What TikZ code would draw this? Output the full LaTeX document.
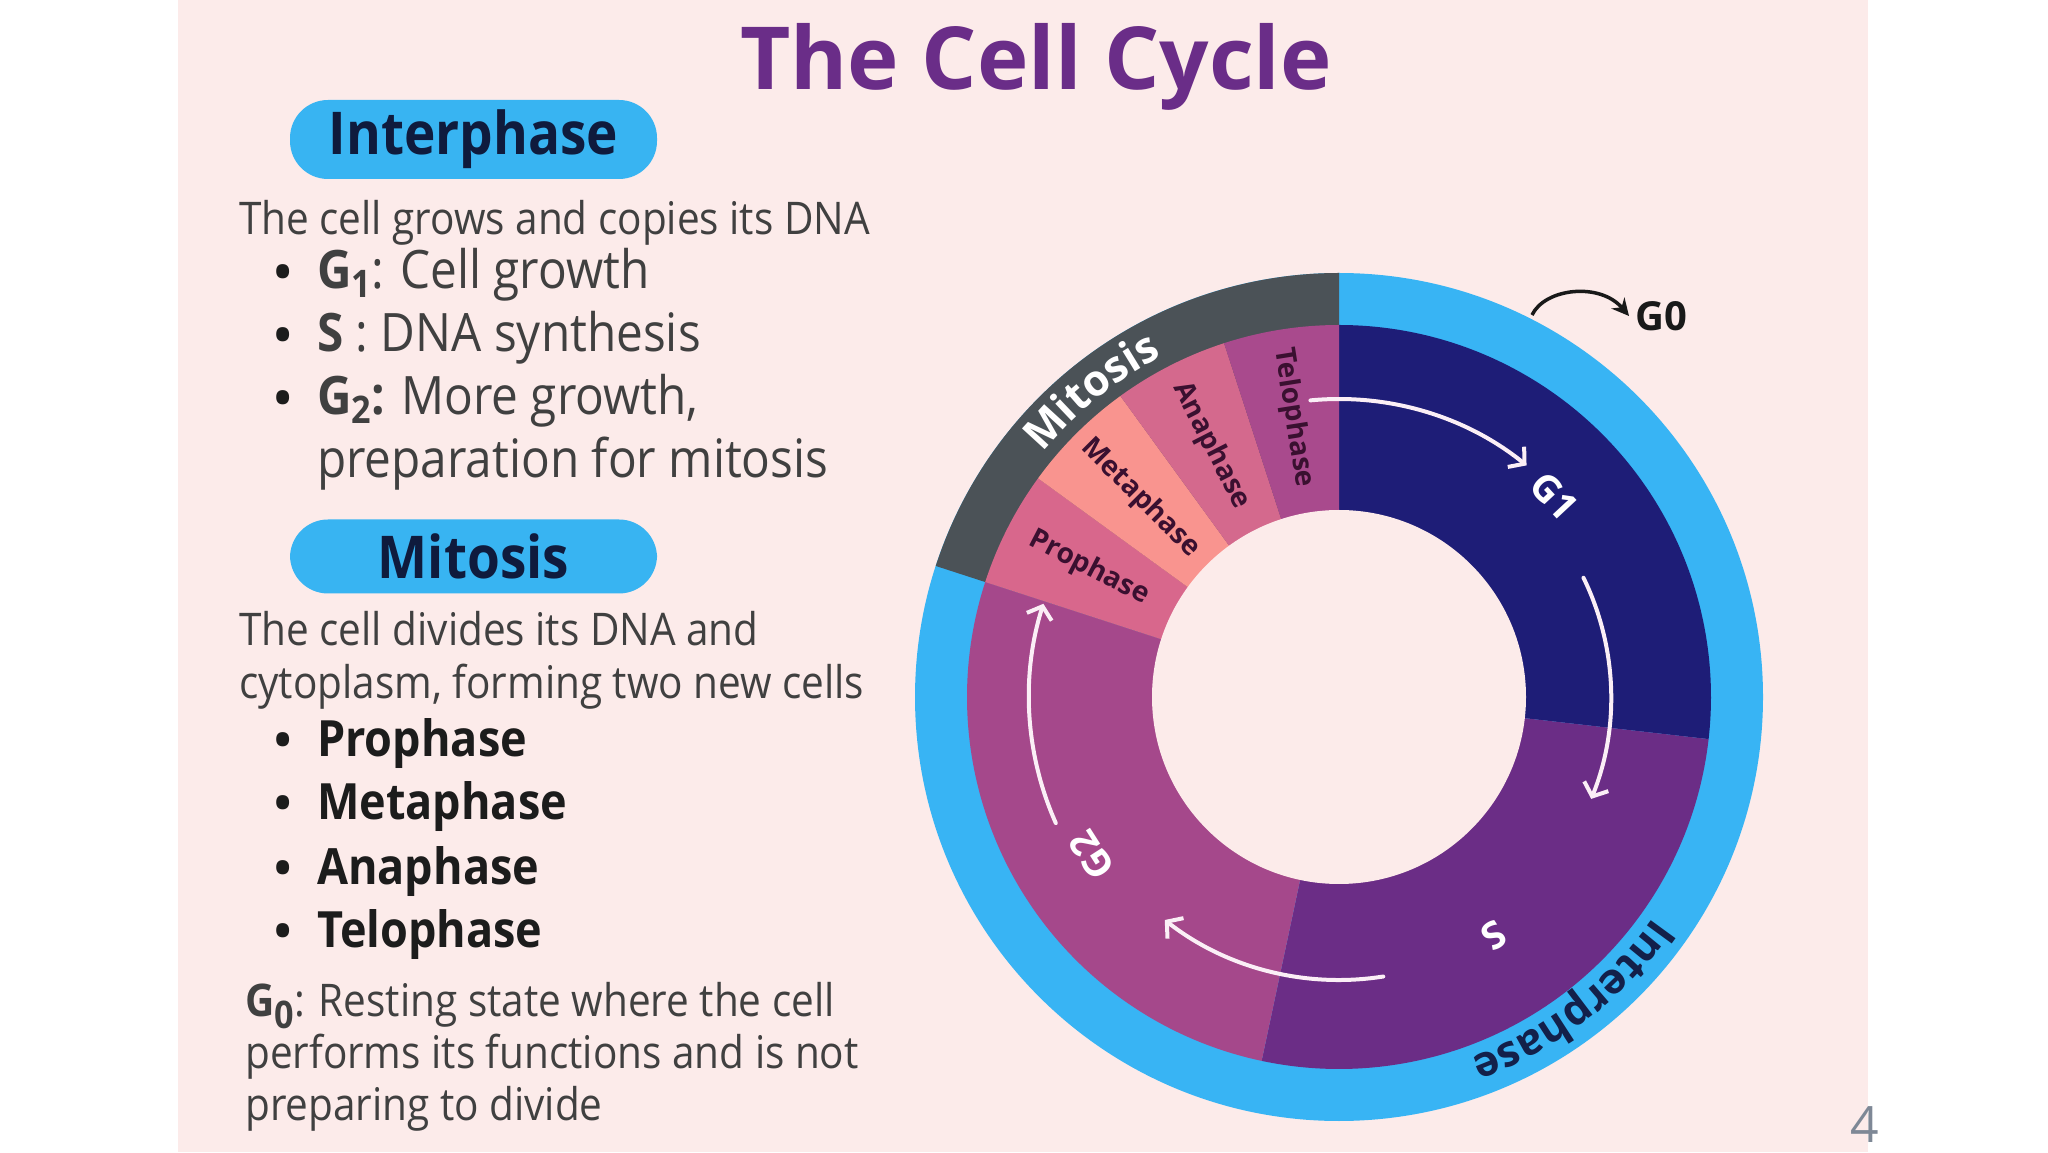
\documentclass[tikz,border=0pt]{standalone}
\usepackage{fontspec}
\setmainfont{Open Sans}
\newfontfamily\osans{Open Sans}
\newfontfamily\osc[FakeStretch=0.9]{Open Sans}
\usetikzlibrary{arrows.meta,decorations.text}
\definecolor{bg}{HTML}{FCEBEA}
\definecolor{ringblue}{HTML}{38B4F4}
\definecolor{ringgray}{HTML}{4B5257}
\definecolor{g1col}{HTML}{1E1D77}
\definecolor{scol}{HTML}{6B2D86}
\definecolor{g2col}{HTML}{A5488B}
\definecolor{procol}{HTML}{D8678C}
\definecolor{metacol}{HTML}{F9948F}
\definecolor{anacol}{HTML}{D4698D}
\definecolor{telocol}{HTML}{A94A8D}
\definecolor{labdark}{HTML}{3A1030}
\definecolor{navytxt}{HTML}{13204A}
\definecolor{pillblue}{HTML}{38B4F2}
\definecolor{pilltext}{HTML}{0F1B3D}
\definecolor{titlepurple}{HTML}{6A2D88}
\definecolor{bodygray}{HTML}{404040}
\definecolor{itemblack}{HTML}{1C1C1C}
\definecolor{arrowwhite}{HTML}{FBEFF6}
\definecolor{pagegray}{HTML}{7E8896}
\newcommand\wedgefill[4]{\fill[#1] (0,0) -- (#2:#4) arc[start angle=#2,end angle=#3,radius=#4] -- cycle;}
\newcommand\bodyfont{\osc\fontsize{45}{54}\selectfont}
\newcommand\listfont{\osc\fontsize{53}{60}\selectfont}
\newcommand\itemfont{\osc\bfseries\fontsize{50}{58}\selectfont}
\newcommand\ringfont{\osans\bfseries\fontsize{43}{50}\selectfont}
\newcommand\subnum[1]{\raisebox{-9pt}{\fontsize{38}{38}\selectfont\bfseries #1}}
\tikzset{
  title/.style={anchor=base, inner sep=0pt, text=titlepurple, font=\osans\bfseries\fontsize{87}{100}\selectfont},
  pill/.style={fill=pillblue, rounded corners=38pt, minimum width=367pt, text=pilltext, inner sep=0pt, font=\osc\bfseries\fontsize{59}{66}\selectfont},
  body/.style={anchor=base west, inner sep=0pt, text=bodygray, font=\bodyfont},
  listline/.style={anchor=base west, inner sep=0pt, text=bodygray, font=\listfont},
  item/.style={anchor=base west, inner sep=0pt, text=itemblack, font=\itemfont},
  bul/.style={anchor=base, inner sep=0pt, text=itemblack, font=\osans\bfseries\fontsize{46}{50}\selectfont},
  wlab/.style={inner sep=0pt, text=labdark, font=\osans\bfseries\fontsize{28}{32}\selectfont},
  glab/.style={inner sep=0pt, text=white, font=\osans\bfseries\fontsize{38}{44}\selectfont},
  cyc/.style={draw=arrowwhite, line width=4pt, line cap=round, -{Straight Barb[length=11pt,width=26pt,line width=4pt]}},
  g0arrow/.style={draw=black!90, line width=3.5pt, -{Stealth[length=17pt,width=17pt]}},
}
\begin{document}
\begin{tikzpicture}[x=1pt,y=1pt]
\useasboundingbox (0,0) rectangle (2048,1152);
\fill[white] (0,0) rectangle (2048,1152);
\fill[bg] (178,0) rectangle (1868,1152);

% title
\node[title] (title) at (1036,1062) {The Cell Cycle};

% left panel
\node[pill, minimum height=79pt] (pint) at (473.5,1012.5) {Interphase};
\node[body] (l1) at (239,917) {The cell grows and copies its DNA};
\node[bul] (b1) at (283,863) {•};
\node[listline] (i1) at (317,863) {{\bfseries G}\subnum{1}: Cell growth};
\node[bul] (b2) at (283,800) {•};
\node[listline] (i2) at (317,800) {{\bfseries S} : DNA synthesis};
\node[bul] (b3) at (283,737) {•};
\node[listline] (i3) at (317,737) {{\bfseries G\subnum{2}:} More growth,};
\node[listline] (i3b) at (317,674) {preparation for mitosis};

\node[pill, minimum height=74pt] (pmit) at (473.5,595.5) {Mitosis};
\node[body] (m1) at (239,506) {The cell divides its DNA and};
\node[body] (m2) at (239,453) {cytoplasm, forming two new cells};
\node[bul] (b4) at (283,395) {•};
\node[item] (pro) at (317,395) {Prophase};
\node[bul] (b5) at (283,332) {•};
\node[item] (meta) at (317,332) {Metaphase};
\node[bul] (b6) at (283,268) {•};
\node[item] (ana) at (317,268) {Anaphase};
\node[bul] (b7) at (283,205) {•};
\node[item] (telo) at (317,205) {Telophase};

\node[body] (g0a) at (245,136) {{\bfseries G\raisebox{-12pt}{\fontsize{38}{38}\selectfont\bfseries 0}}: Resting state where the cell};
\node[body] (g0b) at (245,84) {performs its functions and is not};
\node[body] (g0c) at (245,32) {preparing to divide};

% page number
\node[anchor=base, inner sep=0pt, text=pagegray, font=\osans\fontsize{50}{56}\selectfont] (page) at (1864.5,10) {4};

% cycle wheel
\begin{scope}[shift={(1339,455)}]
  \fill[ringblue] (0,0) circle[radius=424];
  \wedgefill{ringgray}{90}{162}{424}
  \wedgefill{g1col}{90}{-6.5}{372}
  \wedgefill{scol}{-6.5}{-102}{372}
  \wedgefill{g2col}{-102}{-198}{372}
  \wedgefill{procol}{162}{144}{372}
  \wedgefill{metacol}{144}{126}{372}
  \wedgefill{anacol}{126}{108}{372}
  \wedgefill{telocol}{108}{90}{372}
  \fill[bg] (0,0) circle[radius=187];

  % ring labels
  \path[decoration={text along path, text align=center,
        text={|\ringfont\color{white}|Mitosis}}, decorate]
        (150:384) arc[start angle=150, end angle=108, radius=384];
  \path[decoration={text along path, text align=center,
        text={|\ringfont\color{navytxt}|Interphase}}, decorate]
        (-15:384) arc[start angle=-15, end angle=-90, radius=384];

  % mitosis wedge labels
  \node[wlab, rotate=-27.3] (wpro) at (152.7:281) {Prophase};
  \node[wlab, rotate=-45] (wmeta) at (135:281) {Metaphase};
  \node[wlab, rotate=-63] (wana) at (117:282) {Anaphase};
  \node[wlab, rotate=-81] (wtelo) at (99.3:283) {Telophase};

  % interphase labels
  \node[glab, rotate=-47] (wg1) at (43:294) {G1};
  \node[glab, rotate=-147] (ws) at (-57:285) {S};
  \node[glab, rotate=122.6] (wg2) at (212.6:294) {G2};

  % cycle arrows
  \coordinate (a1) at (95.5:298);
  \coordinate (a2) at (26:272);
  \coordinate (a3) at (-81:283);
  \coordinate (a4) at (204:310);
  \draw[cyc] (a1) arc[start angle=95.5, end angle=51, radius=298];
  \draw[cyc] (a2) arc[start angle=26, end angle=-22, radius=272];
  \draw[cyc] (a3) arc[start angle=-81, end angle=-128, radius=283];
  \draw[cyc] (a4) arc[start angle=204, end angle=162.5, radius=310];
\end{scope}

% G0 exit
\coordinate (g0s) at (1532,837);
\node[anchor=west, inner sep=0pt, text=black!90, font=\osans\bfseries\fontsize{40}{46}\selectfont] (G0) at (1635,836) {G0};
\draw[g0arrow] (g0s) .. controls (1545,864) and (1600,870) .. ([xshift=-6pt]G0.west);
\end{tikzpicture}
\end{document}
